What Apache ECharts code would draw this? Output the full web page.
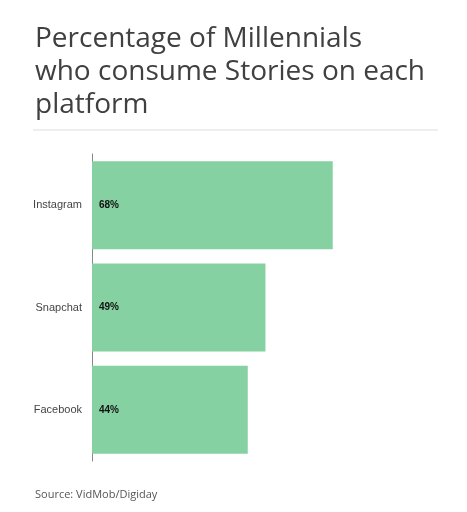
<!DOCTYPE html>
<html><head><meta charset="utf-8">
<script src="https://cdn.jsdelivr.net/npm/echarts@6/dist/echarts.min.js"></script>
<style>html,body{margin:0;padding:0;background:#fff}#c{width:467px;height:512px}</style>
</head><body><div id="c"></div>
<script>
const categories = ["Instagram", "Snapchat", "Facebook"];
const values = [68, 49, 44];
const titleText = "Percentage of Millennials\nwho consume Stories on each\nplatform";
const sourceText = "Source: VidMob/Digiday";

const chart = echarts.init(document.getElementById('c'));
chart.setOption({
  animation: false,
  title: {
    text: titleText, left: 30, top: 18,
    textStyle: {fontFamily: "Open Sans", fontWeight: 'normal', fontSize: 28, lineHeight: 33, color: '#404040'}
  },
  graphic: [
    {type: 'line', shape: {x1: 33, y1: 130, x2: 438, y2: 130}, style: {stroke: '#ddd', lineWidth: 1}},
    {type: 'text', left: 35, top: 489, style: {text: sourceText, fontFamily: "Open Sans", fontSize: 11, fill: '#555'}}
  ],
  grid: {left: 92, right: 21, top: 154, bottom: 51},
  xAxis: {type: 'value', min: 0, max: 100, show: false},
  yAxis: {
    type: 'category', data: categories, inverse: true,
    axisLine: {show: true, lineStyle: {color: '#888'}},
    axisTick: {show: false},
    axisLabel: {fontFamily: "Liberation Sans", fontSize: 11, color: '#444', margin: 10}
  },
  series: [{
    type: 'bar', data: values, barCategoryGap: '14%',
    itemStyle: {color: '#86d1a2'},
    label: {show: true, position: 'insideLeft', formatter: '{c}%', fontFamily: "Liberation Sans", fontWeight: 'bold', fontSize: 10, color: '#111', offset: [2, 0]}
  }]
});
</script></body></html>
